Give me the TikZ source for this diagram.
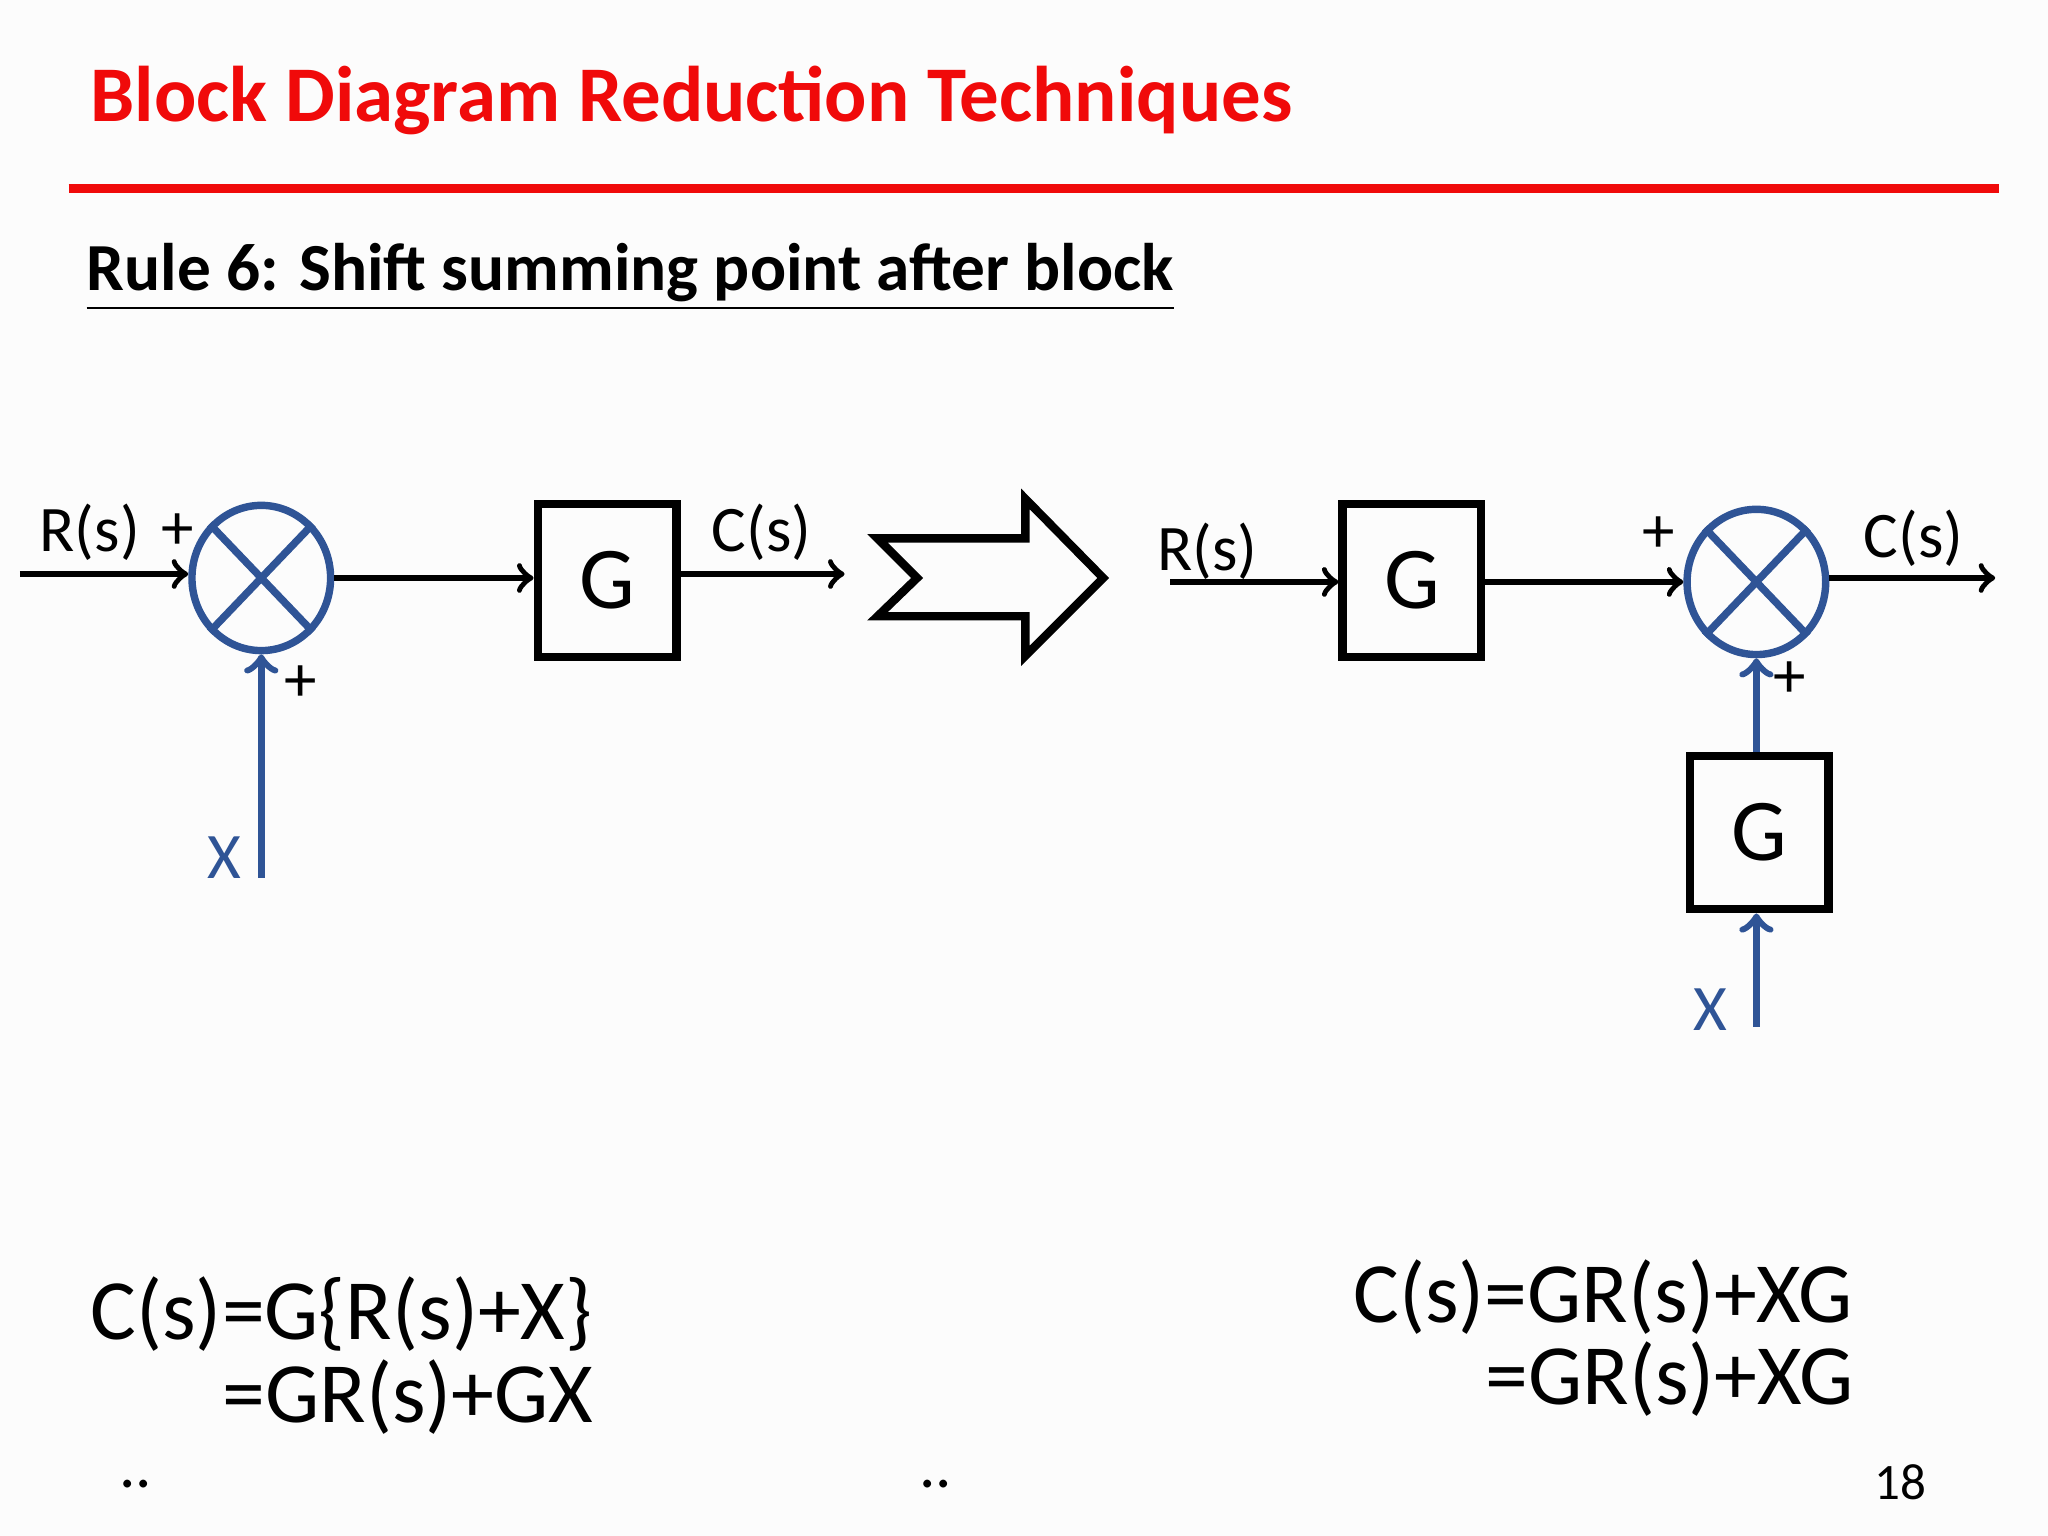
\documentclass[tikz,border=0pt]{standalone}
\usepackage{fontspec}
\setmainfont{Carlito}
\usetikzlibrary{calc}
\usetikzlibrary{shapes.geometric}
\definecolor{sumblue}{RGB}{47,84,150}
\definecolor{titlered}{RGB}{240,10,10}
\tikzset{
  blk/.style={draw, line width=1.8pt, minimum width=1.05cm, minimum height=1.16cm, font=\fontsize{19}{23}\selectfont},
  summ/.style={draw=sumblue, line width=1.6pt, ellipse, minimum width=1.05cm, minimum height=1.1cm},
  sig/.style={->, line width=1.3pt},
  bsig/.style={->, line width=1.6pt, draw=sumblue},
  lbl/.style={font=\fontsize{14}{16}\selectfont},
  eqn/.style={font=\fontsize{18.5}{22}\selectfont, anchor=base west}
}
\begin{document}
\begin{tikzpicture}[x=0.01cm,y=-0.01cm]
        \useasboundingbox (0,0) rectangle (1552,1164);
        \fill[white!98!gray] (0,0) rectangle (1552,1164);

        % title
        \node[anchor=base west, text=titlered, font=\bfseries\fontsize{17}{20}\selectfont, inner sep=0] (title) at (68,92) {Block Diagram Reduction Techniques};
        \draw[titlered, line width=2pt] (52,143) -- (1515,143);
        \node[anchor=base west, font=\bfseries\fontsize{14.5}{18}\selectfont, inner sep=0] (rule) at (65,220) {\underline{Rule 6: Shift summing point after block}};

        % left diagram
        \node[summ] (S1) at (198,438) {};
        \draw[sumblue, line width=1.6pt] (S1.north west) -- (S1.south east) (S1.north east) -- (S1.south west);
        \node[blk] (G1) at (460,440) {G};
        \coordinate (r1) at (15,435);
        \coordinate (c1) at (640,435);
        \coordinate (x1) at (198,665);
        \draw[sig] (r1) -- (S1.west |- r1);
        \draw[sig] (S1.east) -- (G1.west |- S1.east);
        \draw[sig] (G1.east |- c1) -- (c1);
        \draw[bsig] (x1) -- (S1.south);
        \node[lbl] (lr1) at (68,403) {R(s)};
        \node[lbl] (lp1) at (135,403) {+};
        \node[lbl] (lp2) at (228,518) {+};
        \node[lbl] (lc1) at (577,403) {C(s)};
        \node[lbl, text=sumblue] (lx1) at (170,650) {X};

        % big arrow
        \draw[line width=1.8pt] (665,408) -- (777,408) -- (777,378) -- (836,438) -- (777,497) -- (777,467) -- (665,467) -- (695,438) -- cycle;

        % right diagram
        \node[blk] (G2) at (1070,440) {G};
        \node[summ] (S2) at (1331,441) {};
        \draw[sumblue, line width=1.6pt] (S2.north west) -- (S2.south east) (S2.north east) -- (S2.south west);
        \node[blk] (G3) at (1333,631) {G};
        \coordinate (r2) at (887,441);
        \coordinate (c2) at (1512,438);
        \coordinate (x2) at (1331,778);
        \draw[sig] (r2) -- (G2.west |- r2);
        \draw[sig] (G2.east |- S2.west) -- (S2.west);
        \draw[sig] (S2.east |- c2) -- (c2);
        \draw[bsig] (G3.north -| S2.south) -- (S2.south);
        \draw[bsig] (x2) -- (G3.south -| x2);
        \node[lbl] (lr2) at (915,418) {R(s)};
        \node[lbl] (lp3) at (1257,405) {+};
        \node[lbl] (lp4) at (1356,515) {+};
        \node[lbl] (lc2) at (1450,408) {C(s)};
        \node[lbl, text=sumblue] (lx2) at (1296,765) {X};

        % equations
        \node[eqn, inner sep=0] (e1) at (68,1015) {C(s)=G\{R(s)+X\}};
        \node[eqn, inner sep=0] (e2) at (168,1078) {=GR(s)+GX};
        \node[eqn, inner sep=0] (e3) at (1025,1002) {C(s)=GR(s)+XG};
        \node[eqn, inner sep=0] (e4) at (1125,1064) {=GR(s)+XG};

        \node[lbl] (d1) at (103,1125) {..};
        \node[lbl] (d2) at (709,1125) {..};
        \node[font=\rmfamily\fontsize{11}{13}\selectfont] (pg) at (1440,1123) {18};
\end{tikzpicture}
\end{document}
